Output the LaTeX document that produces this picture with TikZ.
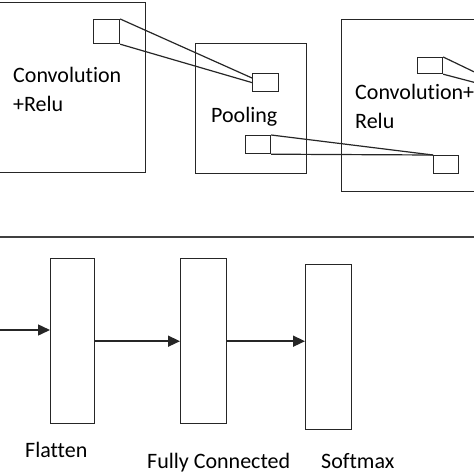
\documentclass[tikz,border=0pt]{standalone}
\usepackage{fontspec}
\setmainfont{Carlito}[Ligatures=NoCommon]
\usetikzlibrary{arrows.meta}

\tikzset{
  layer/.style={draw=black!85, line width=1.4pt, inner sep=0pt, anchor=north west},
  patch/.style={draw=black!85, line width=1.2pt, inner sep=0pt, anchor=north west},
  lbl/.style={anchor=base west, inner sep=0pt, font=\fontsize{22}{24}\selectfont},
  flow/.style={draw=black!85, line width=1.5pt, -{Triangle[length=12pt,width=11pt]}}
}

\begin{document}
\begin{tikzpicture}[x=1pt,y=-1pt]
\useasboundingbox (0,0) rectangle (474,474);
\clip (0,0) rectangle (474,474);
% feature maps
\node[layer, minimum width=155pt, minimum height=170pt] (conv1) at (-10,2) {};
\node[layer, minimum width=111pt, minimum height=130pt] (pool) at (195,43) {};
\node[layer, minimum width=150pt, minimum height=172pt] (conv2) at (341,19) {};
\node[lbl] (conv1a) at (13,82) {Convolution};
\node[lbl] (conv1b) at (13,111) {+Relu};
\node[lbl] (poolt) at (211,122) {Pooling};
\node[lbl] (conv2a) at (355,99) {Convolution+};
\node[lbl] (conv2b) at (355,128) {Relu};
% receptive fields
\node[patch, minimum width=26pt, minimum height=24pt] (p1) at (93,19) {};
\node[patch, minimum width=26pt, minimum height=18pt] (p2) at (252,73) {};
\node[patch, minimum width=25pt, minimum height=18pt] (p3) at (245,135) {};
\node[patch, minimum width=25pt, minimum height=18pt] (p4) at (433,155) {};
\node[patch, minimum width=25pt, minimum height=16pt] (p5) at (417,57) {};
\coordinate (next1) at (490,79.5);
\coordinate (next2) at (490,86.5);
\draw[black!85, line width=1.2pt] (p1.north east) -- ([yshift=-5pt]p2.north west);
\draw[black!85, line width=1.2pt] (p1.south east) -- (p2.west);
\draw[black!85, line width=1.2pt] (p3.north east) -- (p4.north west);
\draw[black!85, line width=1.2pt] (p3.south east) -- (p4.north west);
\draw[black!85, line width=1.2pt] (p5.north east) -- (next1);
\draw[black!85, line width=1.2pt] (p5.south east) -- (next2);
% divider
\draw[black!75, line width=2pt] (-5,237) -- (480,237);
% dense part
\node[layer, minimum width=44pt, minimum height=165pt] (flat) at (50,258) {};
\node[layer, minimum width=46pt, minimum height=165pt] (fc) at (180,258) {};
\node[layer, minimum width=46pt, minimum height=165pt] (soft) at (305,264) {};
\coordinate (in) at (-5,330);
\draw[flow] (in) -- (in -| flat.west);
\draw[flow] (flat.east) -- (flat.east -| fc.west);
\draw[flow] (fc.east) -- (fc.east -| soft.west);
\node[lbl] (flatt) at (25,457) {Flatten};
\node[lbl] (fct) at (147,468) {Fully Connected};
\node[lbl] (softt) at (321,468) {Softmax};
\end{tikzpicture}
\end{document}
